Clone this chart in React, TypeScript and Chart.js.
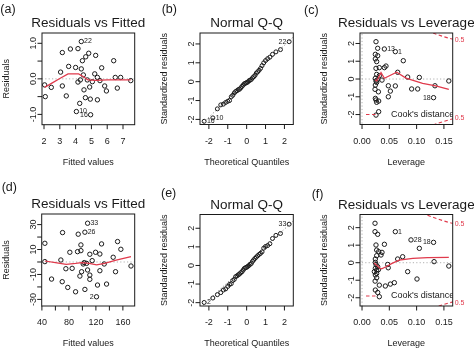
import React, { useEffect, useRef } from "react";
import { Chart, registerables } from "chart.js";

Chart.register(...registerables);

// ---------------- data ----------------
// (a) residuals vs fitted, model 1
const FITTED_A = [4.36, 3.16, 3.67, 4.15, 4.83, 4.64, 4.43, 5.27, 6.41, 3.56, 4.0, 4.36, 5.65, 3.05, 4.49, 5.21, 5.38, 6.51, 6.85, 7.49, 4.3, 4.74, 4.15, 5.54, 5.06, 2.04, 2.46, 3.16, 5.84, 4.89, 4.53, 6.64, 5.95, 2.08, 3.41, 4.62, 4.93, 5.38, 4.26, 4.05, 4.95];
const RESID_A = [1.05, 0.74, 0.84, 0.85, 0.72, 0.62, 0.51, 0.66, 0.51, 0.35, 0.32, 0.28, 0.31, 0.19, 0.11, 0.14, 0.04, 0.04, 0.04, -0.05, -0.03, -0.03, -0.09, -0.05, -0.08, -0.17, -0.24, -0.2, -0.2, -0.23, -0.31, -0.26, -0.34, -0.5, -0.48, -0.53, -0.57, -0.59, -0.69, -0.92, -1.01];
const SMOOTH_A_X = [2.04, 2.5, 3.0, 3.52, 4.19, 4.5, 4.78, 5.3, 6.0, 6.7, 7.49];
const SMOOTH_A_Y = [-0.24, -0.12, 0.01, 0.14, 0.14, 0.06, -0.03, -0.04, -0.03, -0.03, -0.03];

// (b) normal Q-Q, model 1
const QQ_THEO = [-2.25, -1.79, -1.55, -1.37, -1.23, -1.11, -1.0, -0.905, -0.816, -0.733, -0.655, -0.582, -0.51, -0.442, -0.375, -0.311, -0.247, -0.184, -0.123, -0.061, 0, 0.061, 0.123, 0.184, 0.247, 0.311, 0.375, 0.442, 0.51, 0.582, 0.655, 0.733, 0.816, 0.905, 1.0, 1.11, 1.23, 1.37, 1.55, 1.79, 2.25];
const QQ_B = [-2.1, -1.92, -1.44, -1.23, -1.19, -1.1, -1.04, -1.0, -0.8, -0.72, -0.6, -0.52, -0.48, -0.42, -0.4, -0.33, -0.25, -0.18, -0.11, -0.08, -0.05, -0.02, 0.05, 0.08, 0.12, 0.2, 0.26, 0.33, 0.45, 0.52, 0.6, 0.7, 0.85, 1.0, 1.12, 1.22, 1.3, 1.45, 1.58, 1.7, 2.12];
const QQLINE_B_X = [-2.7, 2.7];
const QQLINE_B_Y = [-2.55, 2.59];

// (c) residuals vs leverage, model 1
const LEV_C = [0.0256, 0.0287, 0.0409, 0.061, 0.0244, 0.0287, 0.0244, 0.0268, 0.0756, 0.0256, 0.0317, 0.0409, 0.0439, 0.0653, 0.0268, 0.0317, 0.0366, 0.0836, 0.105, 0.159, 0.0244, 0.0256, 0.0268, 0.0244, 0.0482, 0.061, 0.1336, 0.0238, 0.0519, 0.0909, 0.102, 0.0482, 0.0244, 0.0256, 0.0305, 0.131, 0.0268, 0.0305, 0.0256, 0.028, 0.03];
const SRES_C = [2.1, 1.73, 1.69, 1.54, 1.39, 1.31, 1.13, 0.98, 1.03, 0.6, 0.64, 0.64, 0.73, 0.38, 0.26, 0.19, -0.06, 0.11, 0.09, -0.11, 0.04, -0.11, -0.19, -0.34, -0.38, -0.39, -0.38, -0.58, -0.68, -0.56, -0.56, -1.0, -1.09, -1.18, -1.24, -1.05, -1.31, -1.84, -2.03, -0.05, -0.72];
const SMOOTH_C_X = [0.024, 0.027, 0.0348, 0.041, 0.0634, 0.0805, 0.111, 0.135, 0.159];
const SMOOTH_C_Y = [-0.05, -0.1, 0.36, 0.04, 0.38, 0.05, -0.24, -0.39, -0.58];

// (d) residuals vs fitted, model 2
const FITTED_D = [107.7, 103.7, 70.6, 93.8, 44.4, 152.1, 128.4, 97.8, 157, 81.4, 92.8, 97.8, 111, 119.5, 125.9, 145.6, 68.1, 44.4, 114.5, 102.7, 101.2, 106.2, 132.3, 172, 75.5, 84.8, 107.7, 98.8, 125.9, 149.1, 54.3, 96.3, 111.0, 111.0, 70.1, 122.4, 135.8, 78.3, 103.7, 89.9, 120.9];
const RESID_D = [31.1, 23.9, 23.6, 22.3, 15.0, 16.4, 14.5, 13.7, 10.2, 7.8, 8.3, 9.1, 6.2, 7.8, 6.4, 3.8, 1.6, 0.3, 1.1, -0.5, -1.6, -1.1, -1.6, -3.2, -5.4, -5.1, -6.4, -7.8, -7.0, -7.8, -13.7, -11.3, -10.5, -13.9, -15.8, -18.5, -17.7, -20.4, -22.0, -23.9, -27.9];
const SMOOTH_D_X = [44.4, 60, 76, 90, 99, 110, 121, 133, 150, 172];
const SMOOTH_D_Y = [0.8, -0.5, -1.9, -1.2, -0.5, -1.2, -2.4, -1.1, 1.5, 4.3];

// (e) normal Q-Q, model 2
const QQ_E = [-1.99, -1.75, -1.57, -1.46, -1.32, -1.26, -1.13, -1.02, -0.98, -0.81, -0.75, -0.6, -0.56, -0.5, -0.46, -0.39, -0.34, -0.25, -0.16, -0.12, -0.1, -0.05, 0.0, 0.06, 0.11, 0.22, 0.3, 0.38, 0.45, 0.52, 0.59, 0.65, 0.73, 0.93, 1.02, 1.07, 1.17, 1.45, 1.62, 1.72, 2.22];
const QQLINE_E_X = [-2.7, 2.7];
const QQLINE_E_Y = [-2.52, 2.62];

// (f) residuals vs leverage, model 2
const LEV_F = [0.0238, 0.0238, 0.0287, 0.061, 0.0897, 0.131, 0.105, 0.0256, 0.041, 0.0268, 0.0305, 0.0366, 0.0348, 0.0268, 0.0744, 0.0653, 0.132, 0.159, 0.0244, 0.0256, 0.047, 0.048, 0.0244, 0.0268, 0.0836, 0.0226, 0.0268, 0.0244, 0.0268, 0.1007, 0.0317, 0.0427, 0.0519, 0.0592, 0.0244, 0.0287, 0.0317, 0.024, 0.0244, 0.0287, 0.03];
const SRES_F = [2.25, 1.77, 1.62, 1.77, 1.3, 1.16, 0.82, 1.01, 1.05, 0.72, 0.63, 0.59, 0.44, 0.4, 0.34, 0.21, 0.06, -0.19, 0.02, -0.1, -0.1, -0.29, -0.32, -0.42, -0.51, -0.51, -0.61, -0.7, -0.86, -0.93, -1.28, -1.33, -1.22, -1.14, -1.56, -1.7, -1.94, -1.05, 0.21, -0.23, -0.4];
const SMOOTH_F_X = [0.022, 0.027, 0.032, 0.036, 0.045, 0.055, 0.068, 0.093, 0.12, 0.159];
const SMOOTH_F_Y = [-0.02, -0.15, -0.3, -0.35, -0.22, -0.04, 0.15, 0.25, 0.29, 0.3];

// Cook's distance 0.5 contour
const COOK_H = [0.1, 0.11, 0.12, 0.13, 0.14, 0.15, 0.16, 0.17, 0.18];
const COOK_UP = [3.0, 2.84, 2.71, 2.59, 2.48, 2.38, 2.29, 2.21, 2.13];
const COOK_DOWN = [-3.0, -2.84, -2.71, -2.59, -2.48, -2.38, -2.29, -2.21, -2.13];
const COOK_LABEL_C = [2.22, -2.17];
const COOK_LABEL_F = [2.2, -2.29];

// reference lines
const ZERO_X_A = [1, 9];
const ZERO_X_D = [20, 200];
const ZERO_X_LEV = [-0.1, 0.3];
const ZERO_Y = [0, 0];
const VLINE_LEV_X = [0, 0];
const VLINE_LEV_Y = [-5, 5];

// ticks
const TICKS_A_X = [2, 3, 4, 5, 6, 7];
const LABELS_A_X = ["2", "3", "4", "5", "6", "7"];
const TICKS_A_Y = [-1, -0.5, 0, 0.5, 1];
const LABELS_A_Y = ["-1.0", "", "0.0", "", "1.0"];
const TICKS_QQ = [-2, -1, 0, 1, 2];
const LABELS_QQ = ["-2", "-1", "0", "1", "2"];
const TICKS_LEV_X = [0, 0.05, 0.1, 0.15];
const LABELS_LEV_X = ["0.00", "0.05", "0.10", "0.15"];
const TICKS_D_X = [40, 60, 80, 100, 120, 140, 160];
const LABELS_D_X = ["40", "", "80", "", "120", "", "160"];
const TICKS_D_Y = [-30, -20, -10, 0, 10, 20, 30];
const LABELS_D_Y = ["-30", "", "-10", "", "10", "", "30"];

// ---------------- styling ----------------
const W = 474;
const H = 350;
const FONT = '"Liberation Sans", Arial, Helvetica, sans-serif';
const INK = "#1a1a1a";
const RED = "#e03a4c";
const GRAY = "#b0b0b0";
const GRAY_QQ = "#888888";

type Line = { xs: number[]; ys: number[]; color: string; dash: number[]; width: number; order: number };
type IdLabel = { i: number; text: string; side: "l" | "r" };
interface Spec {
  key: string;
  letter: string;
  letterX: number;
  letterY: number;
  title: string;
  box: [number, number, number, number];
  xr: [number, number];
  yr: [number, number];
  xt: number[];
  xl: string[];
  yt: number[];
  yl: string[];
  xTitle: string;
  yTitle: string;
  px: number[];
  py: number[];
  pr: number;
  ids: IdLabel[];
  lines: Line[];
  cook?: number[];
}

const dotted = (xs: number[], ys: number[], color = GRAY): Line => ({ xs, ys, color, dash: [1.2, 2.2], width: 1, order: 5 });
const smooth = (xs: number[], ys: number[]): Line => ({ xs, ys, color: RED, dash: [], width: 1.25, order: 1 });
const cookLines = (): Line[] => [
  { xs: COOK_H, ys: COOK_UP, color: RED, dash: [3.5, 2.5], width: 1.1, order: 2 },
  { xs: COOK_H, ys: COOK_DOWN, color: RED, dash: [3.5, 2.5], width: 1.1, order: 2 },
];

const SPECS: Spec[] = [
  {
    key: "a", letter: "(a)", letterX: 0.3, letterY: 12.5, title: "Residuals vs Fitted",
    box: [42, 33, 134.7, 124.7], xr: [1.873, 7.74], yr: [-1.29, 1.29],
    xt: TICKS_A_X, xl: LABELS_A_X, yt: TICKS_A_Y, yl: LABELS_A_Y,
    xTitle: "Fitted values", yTitle: "Residuals",
    px: FITTED_A, py: RESID_A, pr: 2.2,
    ids: [{ i: 0, text: "22", side: "r" }, { i: 39, text: "10", side: "r" }, { i: 40, text: "16", side: "l" }],
    lines: [dotted(ZERO_X_A, ZERO_Y), smooth(SMOOTH_A_X, SMOOTH_A_Y)],
  },
  {
    key: "b", letter: "(b)", letterX: 161.7, letterY: 12.5, title: "Normal Q-Q",
    box: [200, 33, 293.3, 124.5], xr: [-2.47, 2.47], yr: [-2.27, 2.58],
    xt: TICKS_QQ, xl: LABELS_QQ, yt: TICKS_QQ, yl: LABELS_QQ,
    xTitle: "Theoretical Quantiles", yTitle: "Standardized residuals",
    px: QQ_THEO, py: QQ_B, pr: 2.0,
    ids: [{ i: 0, text: "16", side: "r" }, { i: 1, text: "10", side: "r" }, { i: 40, text: "22", side: "l" }],
    lines: [dotted(QQLINE_B_X, QQLINE_B_Y, GRAY_QQ)],
  },
  {
    key: "c", letter: "(c)", letterX: 304, letterY: 13.5, title: "Residuals vs Leverage",
    box: [360, 33, 452.7, 124.5], xr: [-0.0037, 0.1661], yr: [-2.56, 2.59],
    xt: TICKS_LEV_X, xl: LABELS_LEV_X, yt: TICKS_QQ, yl: LABELS_QQ,
    xTitle: "Leverage", yTitle: "Standardized residuals",
    px: LEV_C, py: SRES_C, pr: 2.2,
    ids: [{ i: 2, text: "13", side: "r" }, { i: 3, text: "1", side: "r" }, { i: 35, text: "18", side: "l" }],
    lines: [dotted(ZERO_X_LEV, ZERO_Y), dotted(VLINE_LEV_X, VLINE_LEV_Y), smooth(SMOOTH_C_X, SMOOTH_C_Y), ...cookLines()],
    cook: COOK_LABEL_C,
  },
  {
    key: "d", letter: "(d)", letterX: 1.7, letterY: 190.7, title: "Residuals vs Fitted",
    box: [41.7, 214, 134.7, 306], xr: [39.7, 177.5], yr: [-35.3, 38.5],
    xt: TICKS_D_X, xl: LABELS_D_X, yt: TICKS_D_Y, yl: LABELS_D_Y,
    xTitle: "Fitted values", yTitle: "Residuals",
    px: FITTED_D, py: RESID_D, pr: 2.2,
    ids: [{ i: 0, text: "33", side: "r" }, { i: 1, text: "26", side: "r" }, { i: 40, text: "2", side: "l" }],
    lines: [dotted(ZERO_X_D, ZERO_Y), smooth(SMOOTH_D_X, SMOOTH_D_Y)],
  },
  {
    key: "e", letter: "(e)", letterX: 161, letterY: 197.4, title: "Normal Q-Q",
    box: [200, 214.5, 293.3, 306], xr: [-2.47, 2.47], yr: [-2.18, 2.74],
    xt: TICKS_QQ, xl: LABELS_QQ, yt: TICKS_QQ, yl: LABELS_QQ,
    xTitle: "Theoretical Quantiles", yTitle: "Standardized residuals",
    px: QQ_THEO, py: QQ_E, pr: 2.0,
    ids: [{ i: 0, text: "2", side: "r" }, { i: 40, text: "33", side: "l" }],
    lines: [dotted(QQLINE_E_X, QQLINE_E_Y, GRAY_QQ)],
  },
  {
    key: "f", letter: "(f)", letterX: 311.7, letterY: 197.5, title: "Residuals vs Leverage",
    box: [360, 214.5, 452.7, 306], xr: [-0.0037, 0.1661], yr: [-2.47, 2.75],
    xt: TICKS_LEV_X, xl: LABELS_LEV_X, yt: TICKS_QQ, yl: LABELS_QQ,
    xTitle: "Leverage", yTitle: "Standardized residuals",
    px: LEV_F, py: SRES_F, pr: 2.2,
    ids: [{ i: 3, text: "1", side: "r" }, { i: 4, text: "28", side: "r" }, { i: 5, text: "18", side: "l" }],
    lines: [dotted(ZERO_X_LEV, ZERO_Y), dotted(VLINE_LEV_X, VLINE_LEV_Y), smooth(SMOOTH_F_X, SMOOTH_F_Y), ...cookLines()],
    cook: COOK_LABEL_F,
  },
];

const zip = (xs: number[], ys: number[]) => xs.map((x, i) => ({ x, y: ys[i] }));

function makeDecor(s: Spec) {
  return {
    id: "decor_" + s.key,
    afterDraw(chart: any) {
      const ctx: CanvasRenderingContext2D = chart.ctx;
      const a = chart.chartArea;
      const xs = chart.scales.x;
      const ys = chart.scales.y;
      ctx.save();

      // point id labels
      ctx.fillStyle = INK;
      ctx.font = `7px ${FONT}`;
      ctx.textBaseline = "middle";
      for (const id of s.ids) {
        const px = xs.getPixelForValue(s.px[id.i]);
        const py = ys.getPixelForValue(s.py[id.i]);
        ctx.textAlign = id.side === "r" ? "left" : "right";
        ctx.fillText(id.text, id.side === "r" ? px + 2.8 : px - 2.8, py);
      }

      // Cook's distance legend + contour labels
      if (s.cook) {
        ctx.save();
        ctx.beginPath();
        ctx.rect(a.left, a.top, a.right - a.left, a.bottom - a.top);
        ctx.clip();
        const ly = a.bottom - 10;
        ctx.strokeStyle = RED;
        ctx.lineWidth = 1.1;
        ctx.setLineDash([3.5, 2.5]);
        ctx.beginPath();
        ctx.moveTo(a.left + 6, ly);
        ctx.lineTo(a.left + 18, ly);
        ctx.stroke();
        ctx.setLineDash([]);
        ctx.fillStyle = INK;
        ctx.font = `9px ${FONT}`;
        ctx.textAlign = "left";
        ctx.textBaseline = "middle";
        ctx.fillText("Cook's distance", a.left + 31, ly);
        ctx.restore();
        ctx.fillStyle = RED;
        ctx.font = `7px ${FONT}`;
        ctx.textAlign = "left";
        ctx.textBaseline = "middle";
        for (const v of s.cook) ctx.fillText("0.5", a.right + 2, ys.getPixelForValue(v));
      }

      // box
      ctx.strokeStyle = INK;
      ctx.lineWidth = 1;
      ctx.setLineDash([]);
      ctx.strokeRect(a.left, a.top, a.right - a.left, a.bottom - a.top);

      // x ticks
      ctx.fillStyle = INK;
      ctx.font = `9px ${FONT}`;
      ctx.textAlign = "center";
      ctx.textBaseline = "middle";
      s.xt.forEach((v, i) => {
        const px = xs.getPixelForValue(v);
        ctx.beginPath();
        ctx.moveTo(px, a.bottom);
        ctx.lineTo(px, a.bottom + 4.5);
        ctx.stroke();
        if (s.xl[i]) ctx.fillText(s.xl[i], px, a.bottom + 16.8);
      });
      // y ticks
      s.yt.forEach((v, i) => {
        const py = ys.getPixelForValue(v);
        ctx.beginPath();
        ctx.moveTo(a.left - 4.5, py);
        ctx.lineTo(a.left, py);
        ctx.stroke();
        if (s.yl[i]) {
          ctx.save();
          ctx.translate(a.left - 8, py);
          ctx.rotate(-Math.PI / 2);
          ctx.fillText(s.yl[i], 0, 0);
          ctx.restore();
        }
      });

      // axis titles
      ctx.fillText(s.xTitle, (a.left + a.right) / 2, a.bottom + 37.8);
      ctx.save();
      ctx.translate(a.left - 35.5, (a.top + a.bottom) / 2);
      ctx.rotate(-Math.PI / 2);
      ctx.fillText(s.yTitle, 0, 0);
      ctx.restore();

      // main title
      ctx.font = `13.5px ${FONT}`;
      ctx.fillText(s.title, (a.left + a.right) / 2, a.top - 9.6);

      // panel letter
      ctx.font = `12.5px ${FONT}`;
      ctx.textAlign = "left";
      ctx.textBaseline = "alphabetic";
      ctx.fillText(s.letter, s.letterX, s.letterY);

      ctx.restore();
    },
  };
}

function Panel({ spec }: { spec: Spec }) {
  const ref = useRef<HTMLCanvasElement>(null);
  useEffect(() => {
    const canvas = ref.current;
    if (!canvas) return;
    const [l, t, r, b] = spec.box;
    const datasets: any[] = [
      {
        data: zip(spec.px, spec.py),
        showLine: false,
        pointStyle: "circle",
        pointRadius: spec.pr,
        pointBorderWidth: 1,
        pointBorderColor: INK,
        pointBackgroundColor: "rgba(0,0,0,0)",
        borderColor: INK,
        backgroundColor: "rgba(0,0,0,0)",
        clip: false,
        order: 3,
      },
      ...spec.lines.map((ln) => ({
        data: zip(ln.xs, ln.ys),
        showLine: true,
        pointRadius: 0,
        borderColor: ln.color,
        borderWidth: ln.width,
        borderDash: ln.dash,
        tension: 0,
        fill: false,
        clip: 0,
        order: ln.order,
      })),
    ];
    const chart = new Chart(canvas, {
      type: "scatter",
      data: { datasets },
      options: {
        responsive: false,
        animation: false,
        events: [],
        layout: { padding: { left: l, top: t, right: W - r, bottom: H - b } },
        scales: {
          x: { type: "linear", display: false, min: spec.xr[0], max: spec.xr[1] },
          y: { type: "linear", display: false, min: spec.yr[0], max: spec.yr[1] },
        },
        plugins: { legend: { display: false }, title: { display: false }, tooltip: { enabled: false } },
      } as any,
      plugins: [makeDecor(spec)],
    });
    return () => chart.destroy();
  }, [spec]);
  return (
    <canvas
      ref={ref}
      width={W}
      height={H}
      style={{ position: "absolute", left: 0, top: 0, width: W, height: H }}
    />
  );
}

export default function App() {
  return (
    <div style={{ position: "fixed", left: 0, top: 0, width: W, height: H, background: "#ffffff", overflow: "hidden" }}>
      {SPECS.map((s) => (
        <Panel key={s.key} spec={s} />
      ))}
    </div>
  );
}
